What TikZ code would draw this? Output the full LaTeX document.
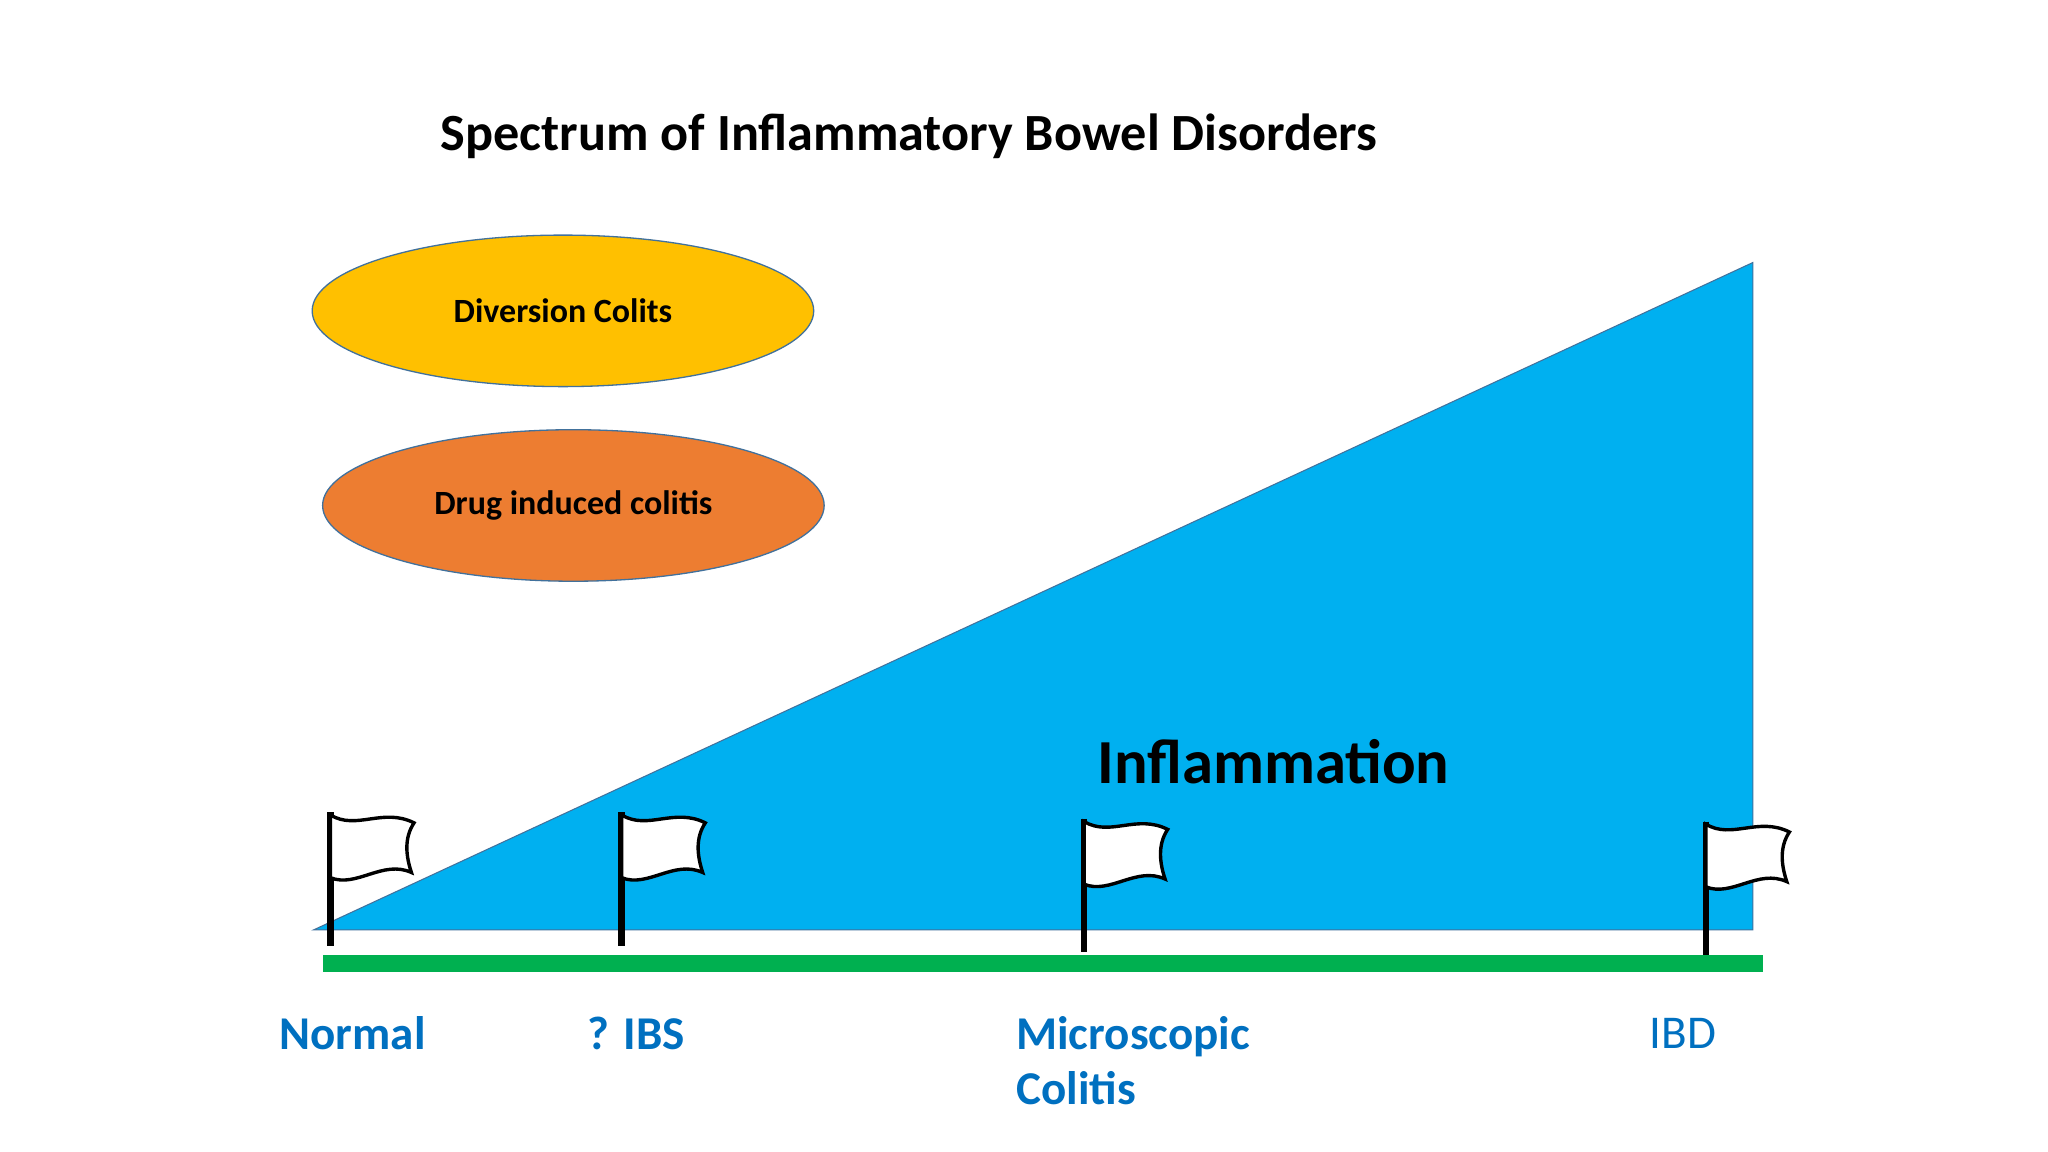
\documentclass[tikz,border=0pt]{standalone}
\usepackage{fontspec}
\setmainfont{Carlito}
\definecolor{tri}{HTML}{00B0F0}
\definecolor{ylw}{HTML}{FFC000}
\definecolor{org}{HTML}{ED7D31}
\definecolor{grn}{HTML}{00B050}
\definecolor{lbl}{HTML}{0070C0}
\definecolor{edge}{HTML}{41719C}
\begin{document}
\begin{tikzpicture}[x=0.5pt,y=-0.5pt,
  ell/.style={draw=edge,line width=0.5pt},
  lab/.style={text=lbl,font=\fontsize{18}{21}\selectfont\bfseries,anchor=west},
  flag/.pic={
    \draw[line width=2.5pt] (0,0) -- (0,102);
    \draw[fill=white,line width=1.3pt] (0,2) .. controls (20,14) and (40,-4) .. (64,8)
      .. controls (56,20) and (58,34) .. (62,46)
      .. controls (40,36) and (20,58) .. (0,50) -- cycle;
  }]
\useasboundingbox (0,0) rectangle (1568,882);
\fill[white] (0,0) rectangle (1568,882);
\node (title) at (696,104) {\fontsize{20}{24}\selectfont\bfseries Spectrum of Inflammatory Bowel Disorders};
\fill[tri] (240,712) -- (1342,712) -- (1342,201) -- cycle;
\draw[edge,line width=0.4pt] (240,712) -- (1342,712) -- (1342,201) -- cycle;
\draw[ell,fill=ylw] (431,238) ellipse[x radius=192,y radius=58];
\node (dct) at (431,238) {\fontsize{13}{15}\selectfont\bfseries Diversion Colits};
\draw[ell,fill=org] (439,387) ellipse[x radius=192,y radius=58];
\node (dit) at (439,387) {\fontsize{13}{15}\selectfont\bfseries Drug induced colitis};
\node (infl) at (975,583) {\fontsize{24}{28}\selectfont\bfseries Inflammation};
\fill[grn] (247,731) rectangle (1350,744);
\pic at (253,622) {flag};
\pic at (476,622) {flag};
\pic at (830,627) {flag};
\pic at (1306,629) {flag};
\node[lab] (n1) at (207,791) {Normal};
\node[lab] (n2) at (443,791) {? IBS};
\node[lab,align=left] (n3) at (771,812) {Microscopic\\Colitis};
\node[lab,font=\fontsize{18}{21}\selectfont] (n4) at (1256,791) {IBD};
\end{tikzpicture}
\end{document}
